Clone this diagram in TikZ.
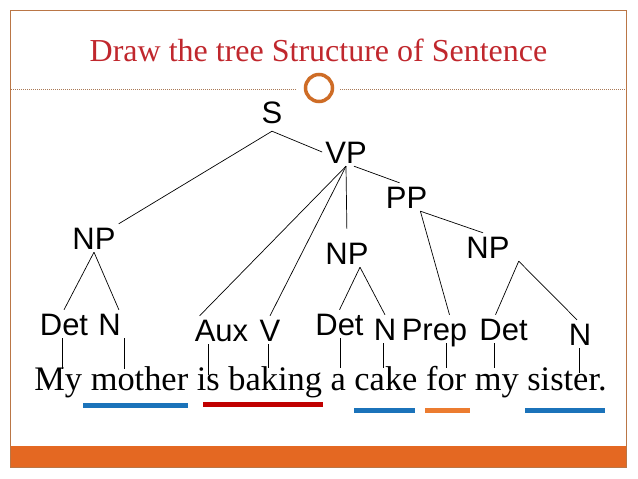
\documentclass[tikz,border=0pt]{standalone}
\usepackage{fontspec}
\setmainfont{Liberation Serif}
\newfontfamily\treefont{Liberation Sans}
\usepackage{xcolor}
\usetikzlibrary{calc,positioning}
\definecolor{framebrown}{RGB}{186,118,70}
\definecolor{barorange}{RGB}{228,104,34}
\definecolor{ringorange}{RGB}{206,108,38}
\definecolor{titlered}{RGB}{192,39,45}
\definecolor{ulblue}{RGB}{27,115,186}
\definecolor{ulred}{RGB}{192,0,0}
\definecolor{ulorange}{RGB}{236,124,48}

\begin{document}
\begin{tikzpicture}[x=1pt,y=-1pt]
\tikzstyle{lbl}=[font=\treefont\fontsize{31}{31}\selectfont, anchor=base, inner sep=3pt, text height=22pt, text depth=0pt]
\tikzstyle{branch}=[line width=0.7pt]
\tikzstyle{uline}=[line width=5pt]
    \useasboundingbox (0,0) rectangle (638,479);
    % slide frame
    \draw [framebrown, line width=0.9pt] (10.7,10.7) rectangle (626,467);
    \fill [barorange] (10.7,446) rectangle (626,467);
    \draw [framebrown!70!gray, line width=0.6pt, dash pattern=on 1pt off 1pt] (11,89) -- (296,89);
    \draw [framebrown!70!gray, line width=0.6pt, dash pattern=on 1pt off 1pt] (340,89) -- (626,89);
    \draw [ringorange, line width=3.5pt] (319,88) circle (13.5);
    \node [titlered, anchor=base, inner sep=0pt, font=\fontsize{32}{32}\selectfont] (title) at (318.5,61) {Draw the tree Structure of Sentence};
    % tree
    \node [lbl] (S) at (272,123) {S};
    \node [lbl] (VP) at (346,163) {VP};
    \node [lbl] (PP) at (406.5,208) {PP};
    \node [lbl] (NP1) at (94,249) {NP};
    \node [lbl] (NP2) at (347,264) {NP};
    \node [lbl] (NP3) at (488,258) {NP};
    \node [lbl] (Det1) at (64,335) {Det};
    \node [lbl] (N1) at (109.5,335) {N};
    \node [lbl] (Aux) at (221.5,341) {Aux};
    \node [lbl] (V) at (270,341) {V};
    \node [lbl] (Det2) at (339.5,335) {Det};
    \node [lbl] (N2) at (385,340) {N};
    \node [lbl] (Prep) at (434.5,340) {Prep};
    \node [lbl] (Det3) at (503.5,340) {Det};
    \node [lbl] (N3) at (580,345) {N};
    \draw [branch] ([yshift=-5pt]S.south) -- (NP1.north east);
    \draw [branch] ([yshift=-5pt]S.south) -- (VP.west);
    \draw [branch] (VP.south) -- ([xshift=8pt]Aux.north west);
    \draw [branch] (VP.south) -- (V.north);
    \draw [branch, shorten >=10pt] (VP.south) -- (NP2.north);
    \draw [branch] ([xshift=8pt]VP.south) -- ([xshift=-7pt]PP.north);
    \draw [branch] ([xshift=-10pt]PP.south east) -- ([xshift=15pt]Prep.north);
    \draw [branch] ([xshift=-10pt]PP.south east) -- ([xshift=-5pt]NP3.north);
    \draw [branch] (NP1.south) -- (Det1.north);
    \draw [branch] (NP1.south) -- ([xshift=-5pt]N1.north east);
    \draw [branch] ([xshift=13pt]NP2.south) -- (Det2.north);
    \draw [branch] ([xshift=13pt]NP2.south) -- (N2.north);
    \draw [branch] ([xshift=6pt]NP3.south east) -- ([xshift=-8pt]Det3.north);
    \draw [branch] ([xshift=6pt]NP3.south east) -- ([xshift=-3pt]N3.north);
    % sentence
    \node [anchor=base, inner sep=0pt, font=\fontsize{34.4}{34.4}\selectfont] (sent) at (320.5,390) {My mother is baking a cake for my sister.};
    \coordinate (w1) at (62,369);
    \coordinate (w2) at (124,369);
    \coordinate (w3) at (208,375);
    \coordinate (w4) at (268,368);
    \coordinate (w5) at (340,368);
    \coordinate (w6) at (383,368);
    \coordinate (w7) at (446,368);
    \coordinate (w8) at (494,368);
    \coordinate (w9) at (579,373);
    \draw [branch] (w1 |- Det1.south) -- (w1);
    \draw [branch] (w2 |- N1.south) -- (w2);
    \draw [branch] (w3 |- Aux.south) -- (w3);
    \draw [branch] (w4 |- V.south) -- (w4);
    \draw [branch] (w5 |- Det2.south) -- (w5);
    \draw [branch] (w6 |- N2.south) -- (w6);
    \draw [branch] (w7 |- Prep.south) -- (w7);
    \draw [branch] (w8 |- Det3.south) -- (w8);
    \draw [branch] (w9 |- N3.south) -- (w9);
    % underlines
    \draw [uline, ulblue] (83,405) -- (188,405);
    \draw [uline, ulred] (203,404.5) -- (323,404.5);
    \draw [uline, ulblue] (354,410) -- (415,410);
    \draw [uline, ulorange] (425,410) -- (470,410);
    \draw [uline, ulblue] (525,410) -- (605,410);
\end{tikzpicture}
\end{document}
